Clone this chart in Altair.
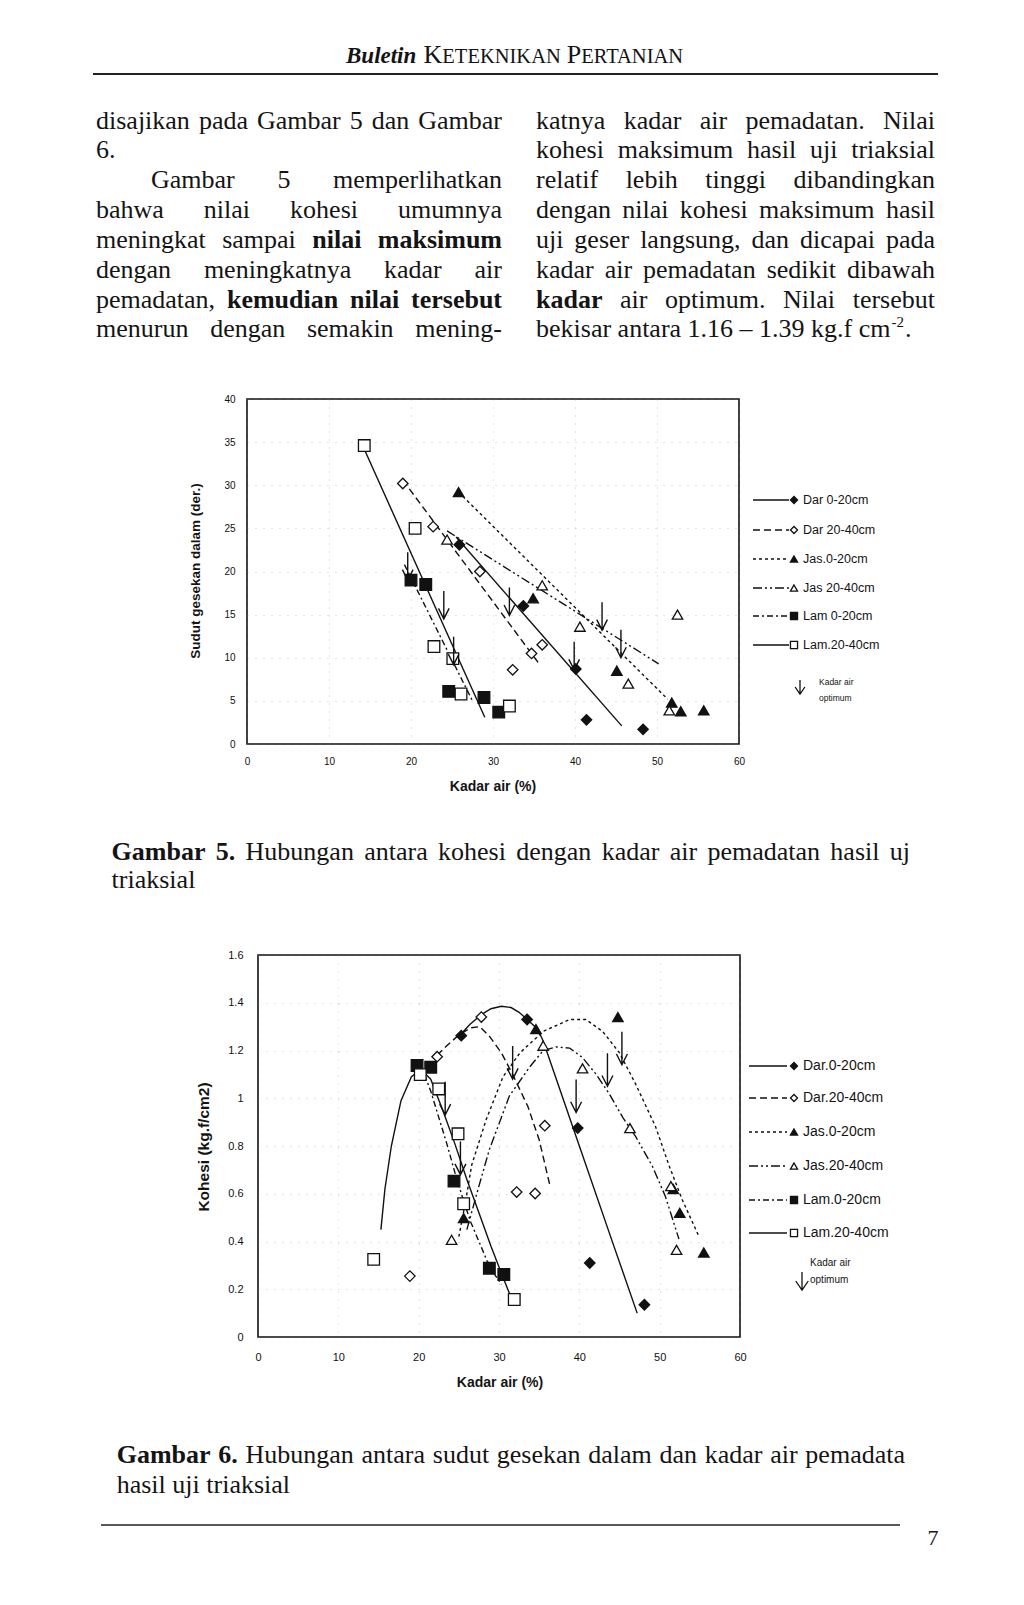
import altair as alt
import pandas as pd

# ---------------- Gambar 5 : Sudut gesekan dalam (der.) ----------------
g5_x_ticks = [0, 10, 20, 30, 40, 50, 60]
g5_y_ticks = [0, 5, 10, 15, 20, 25, 30, 35, 40]
g5_labels = ["Dar 0-20cm", "Dar 20-40cm", "Jas.0-20cm", "Jas 20-40cm", "Lam 0-20cm", "Lam.20-40cm"]

g5_dar1_x = [25.9, 33.7, 40.1, 41.4, 48.3]
g5_dar1_y = [23.1, 16.0, 8.7, 2.8, 1.7]
g5_dar2_x = [19.0, 22.7, 28.4, 36.0, 34.7, 32.4]
g5_dar2_y = [30.2, 25.2, 20.0, 11.5, 10.5, 8.6]
g5_jas1_x = [25.8, 34.9, 45.1, 51.8, 52.9, 55.7]
g5_jas1_y = [29.2, 16.9, 8.5, 4.8, 3.8, 3.9]
g5_jas2_x = [24.4, 36.0, 40.6, 52.5, 46.5, 51.5]
g5_jas2_y = [23.7, 18.4, 13.6, 15.0, 7.0, 3.9]
g5_lam1_x = [20.0, 21.8, 24.6, 28.9, 30.7]
g5_lam1_y = [19.0, 18.5, 6.1, 5.4, 3.7]
g5_lam2_x = [14.3, 20.5, 22.8, 25.1, 26.1, 32.0]
g5_lam2_y = [34.6, 25.0, 11.3, 9.9, 5.8, 4.4]

# trend lines (end points)
g5_tr_dar1_x = [25.5, 45.7]
g5_tr_dar1_y = [24.0, 2.1]
g5_tr_dar2_x = [19.0, 35.7]
g5_tr_dar2_y = [30.6, 9.2]
g5_tr_jas1_x = [25.8, 51.3]
g5_tr_jas1_y = [29.2, 5.2]
g5_tr_jas2_x = [24.4, 50.2]
g5_tr_jas2_y = [24.7, 9.3]
g5_tr_lam1_x = [19.2, 27.5]
g5_tr_lam1_y = [20.8, 5.0]
g5_tr_lam2_x = [14.1, 29.0]
g5_tr_lam2_y = [34.6, 3.1]

# "Kadar air optimum" arrows (x, tip y)
g5_arrow_x = [19.6, 24.0, 25.2, 32.0, 39.9, 43.3, 45.6]
g5_arrow_y = [19.0, 14.5, 9.2, 14.9, 8.6, 13.2, 10.0]

# ---------------- Gambar 6 : Kohesi (kg.f/cm2) ----------------
g6_x_ticks = [0, 10, 20, 30, 40, 50, 60]
g6_y_ticks = [0, 0.2, 0.4, 0.6, 0.8, 1, 1.2, 1.4, 1.6]
g6_labels = ["Dar.0-20cm", "Dar.20-40cm", "Jas.0-20cm", "Jas.20-40cm", "Lam.0-20cm", "Lam.20-40cm"]

g6_dar1_x = [25.3, 33.5, 39.8, 41.3, 48.1]
g6_dar1_y = [1.262, 1.33, 0.875, 0.31, 0.135]
g6_dar2_x = [18.9, 22.3, 27.8, 35.7, 32.2, 34.5]
g6_dar2_y = [0.255, 1.174, 1.34, 0.885, 0.607, 0.601]
g6_jas1_x = [25.6, 34.6, 44.8, 51.7, 52.5, 55.5]
g6_jas1_y = [0.498, 1.29, 1.34, 0.62, 0.52, 0.354]
g6_jas2_x = [24.1, 35.5, 40.4, 46.3, 51.4, 52.1]
g6_jas2_y = [0.407, 1.22, 1.125, 0.875, 0.632, 0.365]
g6_lam1_x = [19.8, 21.5, 24.4, 28.8, 30.6]
g6_lam1_y = [1.137, 1.13, 0.653, 0.288, 0.262]
g6_lam2_x = [14.4, 20.2, 22.5, 24.9, 25.6, 31.9]
g6_lam2_y = [0.325, 1.099, 1.039, 0.851, 0.558, 0.157]

# fitted curves, points
g6_cv_dar1_x = [25.3, 26.4, 27.8, 29.0, 30.3, 31.5, 32.5, 33.5, 34.8, 35.5, 39.8, 44.0, 47.2]
g6_cv_dar1_y = [1.27, 1.31, 1.35, 1.375, 1.385, 1.38, 1.36, 1.33, 1.29, 1.24, 0.82, 0.41, 0.10]
g6_cv_dar2_x = [22.3, 23.5, 25.0, 26.5, 27.6, 28.8, 30.3, 31.7, 33.6, 35.0, 36.3]
g6_cv_dar2_y = [1.18, 1.22, 1.265, 1.295, 1.30, 1.26, 1.19, 1.10, 0.965, 0.826, 0.64]
g6_cv_jas1_x = [25.0, 25.8, 26.6, 28.4, 30.5, 32.6, 35.5, 38.8, 40.8, 42.9, 45.0, 47.0, 49.5, 51.2, 52.8, 54.9]
g6_cv_jas1_y = [0.42, 0.56, 0.72, 0.91, 1.09, 1.19, 1.28, 1.33, 1.33, 1.28, 1.19, 1.06, 0.88, 0.715, 0.576, 0.42]
g6_cv_jas2_x = [26.0, 27.4, 28.8, 31.3, 33.8, 35.5, 37.1, 38.8, 40.4, 42.1, 43.7, 45.4, 47.0, 49.1, 50.7, 52.4]
g6_cv_jas2_y = [0.45, 0.62, 0.785, 1.01, 1.13, 1.20, 1.215, 1.21, 1.17, 1.10, 1.02, 0.92, 0.84, 0.715, 0.59, 0.41]
g6_cv_lam1_x = [19.6, 20.5, 21.5, 22.5, 23.5, 24.5, 25.5, 26.5, 27.5, 28.5, 29.5, 30.3]
g6_cv_lam1_y = [1.14, 1.12, 1.03, 0.92, 0.81, 0.69, 0.58, 0.48, 0.40, 0.32, 0.26, 0.22]
g6_cv_lam2_x = [15.3, 15.8, 16.6, 17.8, 19.1, 20.3, 21.5, 23.0, 24.5, 26.0, 27.5, 29.0, 30.5, 31.8]
g6_cv_lam2_y = [0.45, 0.62, 0.80, 0.99, 1.09, 1.12, 1.08, 0.95, 0.81, 0.66, 0.52, 0.38, 0.25, 0.14]

g6_arrow_x = [23.3, 25.2, 31.7, 39.6, 43.5, 45.3]
g6_arrow_y = [0.93, 0.68, 1.08, 0.94, 1.05, 1.14]

# ---------------- page text ----------------
header_script = "Buletin"
header_caps = [("K", "ETEKNIKAN"), ("P", "ERTANIAN")]
left_lines = [
    ("disajikan pada Gambar 5 dan Gambar", True, 0),
    ("6.", False, 0),
    ("Gambar 5 memperlihatkan", True, 55),
    ("bahwa nilai kohesi umumnya", True, 0),
    ("meningkat sampai *nilai *maksimum", True, 0),
    ("dengan meningkatnya kadar air", True, 0),
    ("pemadatan, *kemudian *nilai *tersebut", True, 0),
    ("menurun dengan semakin mening-", True, 0),
]
right_lines = [
    ("katnya kadar air pemadatan. Nilai", True),
    ("kohesi maksimum hasil uji triaksial", True),
    ("relatif lebih tinggi dibandingkan", True),
    ("dengan nilai kohesi maksimum hasil", True),
    ("uji geser langsung, dan dicapai pada", True),
    ("kadar air pemadatan sedikit dibawah", True),
    ("*kadar air optimum. Nilai tersebut", True),
    ("bekisar antara 1.16 \u2013 1.39 kg.f cm", False),
]
cap5 = ["*Gambar *5. Hubungan antara kohesi dengan kadar air pemadatan hasil uj", "triaksial"]
cap6 = ["*Gambar *6. Hubungan antara sudut gesekan dalam dan kadar air pemadata", "hasil uji triaksial"]
page_no = "7"

# ---------------- font metrics (Times / Liberation Serif) ----------------
REG = dict(zip("abcdefghijklmnopqrstuvwxyz",
               [444, 500, 444, 500, 444, 333, 500, 500, 278, 278, 500, 278, 778, 500, 500, 500, 500, 333, 389, 278, 500, 500, 722, 500, 500, 444]))
REG.update(zip("ABCDEFGHIJKLMNOPQRSTUVWXYZ",
               [722, 667, 667, 722, 611, 556, 722, 722, 333, 389, 722, 611, 889, 722, 722, 556, 722, 667, 556, 611, 722, 722, 944, 722, 722, 611]))
BOLD = dict(zip("abcdefghijklmnopqrstuvwxyz",
                [500, 556, 444, 556, 444, 333, 500, 556, 278, 333, 556, 278, 833, 556, 500, 556, 556, 444, 389, 333, 556, 500, 722, 500, 500, 444]))
BOLD.update(zip("ABCDEFGHIJKLMNOPQRSTUVWXYZ",
                [722, 667, 722, 722, 667, 611, 778, 778, 389, 500, 778, 667, 944, 722, 778, 611, 778, 722, 556, 667, 722, 722, 1000, 722, 722, 667]))
for tbl in (REG, BOLD):
    tbl.update({' ': 250, '.': 250, ',': 250, '-': 333, '\u2013': 500, '(': 333, ')': 333, '/': 278})
    for d in "0123456789":
        tbl[d] = 500


def tw(s, bold, size):
    t = BOLD if bold else REG
    return sum(t.get(c, 500) for c in s) * size / 1000.0


def layout(line, x0, x1, base, size, just):
    words = []
    for w in line.split():
        b = w.startswith('*')
        t = w.lstrip('*')
        words.append((t, b, tw(t, b, size)))
    if just and len(words) > 1:
        gap = (x1 - x0 - sum(w[2] for w in words)) / (len(words) - 1)
    else:
        gap = 0.25 * size
    out, x = [], x0
    for t, b, wd in words:
        out.append((x, base, t, b))
        x += wd + gap
    return out, x - gap


# ---------------- geometry ----------------
W1, H1 = 492, 345
W2, H2 = 482, 382
O1 = (246, 398)
O2 = (257, 954)
BODY = 26


def text_layer(rows, origin, **mk):
    props = dict(color='#141414', align='left', baseline='alphabetic')
    props.update(mk)
    df = pd.DataFrame({'px': [r[0] - origin[0] for r in rows],
                       'py': [r[1] - origin[1] for r in rows],
                       't': [r[2] for r in rows]})
    return alt.Chart(df).mark_text(**props).encode(
        x=alt.X('px:Q', scale=None, axis=None),
        y=alt.Y('py:Q', scale=None, axis=None),
        text=alt.Text('t:N'))


ONE = pd.DataFrame({'a': [0]})


def rule_at(x0, x1, y, origin, **mk):
    return alt.Chart(ONE).mark_rule(**mk).encode(
        x=alt.value(x0 - origin[0]), x2=alt.value(x1 - origin[0]), y=alt.value(y - origin[1]))


def point_at(x, y, origin, **mk):
    return alt.Chart(ONE).mark_point(**mk).encode(
        x=alt.value(x - origin[0]), y=alt.value(y - origin[1]))


STY = [
    dict(shape='diamond', filled=True, dash=None),
    dict(shape='diamond', filled=False, dash=[7, 4]),
    dict(shape='triangle-up', filled=True, dash=[3, 3]),
    dict(shape='triangle-up', filled=False, dash=[9, 3, 2, 3, 2, 3]),
    dict(shape='square', filled=True, dash=[6, 3, 2, 3]),
    dict(shape='square', filled=False, dash=None),
]
SIZE = {'diamond': 110, 'triangle-up': 110, 'square': 135}


def marker_kw(st, size):
    return dict(shape=st['shape'], filled=True, fill='#111' if st['filled'] else 'white',
                stroke='#111', strokeWidth=1.3, size=size, opacity=1)


def line_kw(st, w=1.4):
    kw = dict(color='#111', strokeWidth=w)
    if st['dash']:
        kw['strokeDash'] = st['dash']
    return kw


def axis_x(values, pad, fs):
    return alt.Axis(values=values, title=None, ticks=False, domain=False, grid=True,
                    gridDash=[1, 7], gridColor='#777', gridOpacity=0.4,
                    labelFont='Liberation Sans', labelFontSize=fs, labelPadding=pad,
                    labelColor='#111', labelFlush=False, format='~r')


def data_layers(pts, lines, arrows, xenc_f, yenc_f, arrow_shape, arrow_size, lw):
    layers = []
    for (lx, ly), st in zip(lines, STY):
        df = pd.DataFrame({'x': lx, 'y': ly, 'i': list(range(len(lx)))})
        layers.append(alt.Chart(df).mark_line(**line_kw(st, lw)).encode(
            x=xenc_f(), y=yenc_f(), order='i:Q'))
    for (px, py), st in zip(pts, STY):
        df = pd.DataFrame({'x': px, 'y': py})
        layers.append(alt.Chart(df).mark_point(**marker_kw(st, SIZE[st['shape']])).encode(
            x=xenc_f(), y=yenc_f()))
    ax, ay = arrows
    layers.append(alt.Chart(pd.DataFrame({'x': ax, 'y': ay})).mark_point(
        shape=arrow_shape, size=arrow_size, filled=False, color='#111', strokeWidth=1.4, opacity=1).encode(
        x=xenc_f(), y=yenc_f()))
    return layers


def legend_layers(labels, rows_y, lx0, lx1, mx, tx, fs, origin, arrow_tip, kadar_pos, kfs, arrow_size):
    layers = []
    for lab, ry, st in zip(labels, rows_y, STY):
        layers.append(rule_at(lx0, lx1, ry, origin, **line_kw(st, 1.3)))
        layers.append(point_at(mx, ry, origin, **marker_kw(st, 50)))
    layers.append(text_layer([(tx, ry, lab) for lab, ry in zip(labels, rows_y)], origin,
                             font='Liberation Sans', fontSize=fs, baseline='middle'))
    layers.append(point_at(arrow_tip[0], arrow_tip[1], origin,
                           shape="M0,-2L0,0M-0.7,-1L0,0L0.7,-1", size=arrow_size,
                           filled=False, color='#111', strokeWidth=1.3, opacity=1))
    layers.append(text_layer([(kadar_pos[0], kadar_pos[1], "Kadar air"),
                              (kadar_pos[0], kadar_pos[1] + kadar_pos[2], "optimum")], origin,
                             font='Liberation Sans', fontSize=kfs, baseline='middle'))
    return layers


# ================= Chart 1 (Gambar 5) with page header text =================
x1s = alt.Scale(domain=[0, 60], nice=False, zero=False)
y1s = alt.Scale(domain=[0, 40], nice=False, zero=False)
X1 = lambda: alt.X('x:Q', scale=x1s, axis=axis_x(g5_x_ticks, 12, 10))
Y1 = lambda: alt.Y('y:Q', scale=y1s, axis=axis_x(g5_y_ticks, 12, 10))

L1 = []
# anchor at page top-left (fixes page coordinates)
L1.append(alt.Chart(ONE).mark_rect(color='white').encode(
    x=alt.value(8 - O1[0]), x2=alt.value(9 - O1[0]), y=alt.value(8 - O1[1]), y2=alt.value(9 - O1[1])))

# header
hx = 345
hb = 62
L1.append(text_layer([(hx, hb, header_script)], O1, font='Liberation Serif', fontSize=23,
                     fontWeight='bold', fontStyle='italic'))
hx += tw(header_script, True, 23) + 6
big_rows, small_rows = [], []
for big, small in header_caps:
    big_rows.append((hx, hb, big))
    hx += tw(big, False, 26)
    small_rows.append((hx, hb, small))
    hx += tw(small, False, 20.5) + 6
L1.append(text_layer(big_rows, O1, font='Liberation Serif', fontSize=26))
L1.append(text_layer(small_rows, O1, font='Liberation Serif', fontSize=20.5))
L1.append(rule_at(92, 937, 73, O1, color='#222', strokeWidth=2))

# body text
reg_rows, bold_rows = [], []
BASE0, LEAD = 127.5, 29.85
for k, (line, just, ind) in enumerate(left_lines):
    rows, _ = layout(line, 95 + ind, 501, BASE0 + k * LEAD, BODY, just)
    for r in rows:
        (bold_rows if r[3] else reg_rows).append(r[:3])
end_x = 0
for k, (line, just) in enumerate(right_lines):
    rows, end_x = layout(line, 535, 934, BASE0 + k * LEAD, BODY, just)
    for r in rows:
        (bold_rows if r[3] else reg_rows).append(r[:3])
last_base = BASE0 + 7 * LEAD
sup_rows = [(end_x + 1, last_base - 10, "-2")]
reg_rows.append((end_x + 1 + tw("-2", False, 15) + 1, last_base, "."))

# caption 5
rows, _ = layout(cap5[0], 110.6, 909, 859, BODY, True)
for r in rows:
    (bold_rows if r[3] else reg_rows).append(r[:3])
rows, _ = layout(cap5[1], 110.6, 909, 887, BODY, False)
for r in rows:
    (bold_rows if r[3] else reg_rows).append(r[:3])

L1.append(text_layer(reg_rows, O1, font='Liberation Serif', fontSize=BODY))
L1.append(text_layer(bold_rows, O1, font='Liberation Serif', fontSize=BODY, fontWeight='bold'))
L1.append(text_layer(sup_rows, O1, font='Liberation Serif', fontSize=15))

# data
L1 += data_layers(
    [(g5_dar1_x, g5_dar1_y), (g5_dar2_x, g5_dar2_y), (g5_jas1_x, g5_jas1_y),
     (g5_jas2_x, g5_jas2_y), (g5_lam1_x, g5_lam1_y), (g5_lam2_x, g5_lam2_y)],
    [(g5_tr_dar1_x, g5_tr_dar1_y), (g5_tr_dar2_x, g5_tr_dar2_y), (g5_tr_jas1_x, g5_tr_jas1_y),
     (g5_tr_jas2_x, g5_tr_jas2_y), (g5_tr_lam1_x, g5_tr_lam1_y), (g5_tr_lam2_x, g5_tr_lam2_y)],
    (g5_arrow_x, g5_arrow_y), X1, Y1,
    "M0,-2L0,0M-0.38,-0.75L0,0L0.38,-0.75", 784, 1.4)

# axis titles
L1.append(text_layer([(195, 570, "Sudut gesekan dalam (der.)")], O1, font='Liberation Sans',
                     fontSize=13.5, fontWeight='bold', align='center', baseline='middle', angle=270))
L1.append(text_layer([(492, 786, "Kadar air (%)")], O1, font='Liberation Sans',
                     fontSize=14, fontWeight='bold', align='center', baseline='middle'))

# legend
L1 += legend_layers(g5_labels, [499, 529, 558, 587, 615, 644], 752, 788, 793, 802, 12.5, O1,
                    (799, 693), (818, 681, 16), 8.5, 196)

chart1 = alt.layer(*L1).properties(
    width=W1, height=H1, view=alt.ViewBackground(stroke='#111', strokeWidth=1.6, fill='white'))

# ================= Chart 2 (Gambar 6) =================
x2s = alt.Scale(domain=[0, 60], nice=False, zero=False)
y2s = alt.Scale(domain=[0, 1.6], nice=False, zero=False)
X2 = lambda: alt.X('x:Q', scale=x2s, axis=axis_x(g6_x_ticks, 14, 11))
Y2 = lambda: alt.Y('y:Q', scale=y2s, axis=axis_x(g6_y_ticks, 15, 11))

L2 = []
L2 += data_layers(
    [(g6_dar1_x, g6_dar1_y), (g6_dar2_x, g6_dar2_y), (g6_jas1_x, g6_jas1_y),
     (g6_jas2_x, g6_jas2_y), (g6_lam1_x, g6_lam1_y), (g6_lam2_x, g6_lam2_y)],
    [(g6_cv_dar1_x, g6_cv_dar1_y), (g6_cv_dar2_x, g6_cv_dar2_y), (g6_cv_jas1_x, g6_cv_jas1_y),
     (g6_cv_jas2_x, g6_cv_jas2_y), (g6_cv_lam1_x, g6_cv_lam1_y), (g6_cv_lam2_x, g6_cv_lam2_y)],
    (g6_arrow_x, g6_arrow_y), X2, Y2,
    "M0,-2L0,0M-0.33,-0.65L0,0L0.33,-0.65", 1100, 1.4)

L2.append(text_layer([(203, 1146, "Kohesi (kg.f/cm2)")], O2, font='Liberation Sans',
                     fontSize=15.5, fontWeight='bold', align='center', baseline='middle', angle=270))
L2.append(text_layer([(499, 1382, "Kadar air (%)")], O2, font='Liberation Sans',
                     fontSize=14, fontWeight='bold', align='center', baseline='middle'))
L2 += legend_layers(g6_labels, [1065, 1097, 1131, 1165, 1199, 1232], 748, 786, 793, 802, 14, O2,
                    (801, 1289), (809, 1262, 17), 10, 324)

reg2, bold2 = [], []
rows, _ = layout(cap6[0], 115.7, 904, 1462, BODY, True)
for r in rows:
    (bold2 if r[3] else reg2).append(r[:3])
rows, _ = layout(cap6[1], 115.7, 904, 1492, BODY, False)
for r in rows:
    (bold2 if r[3] else reg2).append(r[:3])
L2.append(text_layer(reg2, O2, font='Liberation Serif', fontSize=BODY))
L2.append(text_layer(bold2, O2, font='Liberation Serif', fontSize=BODY, fontWeight='bold'))
L2.append(rule_at(100, 899, 1524, O2, color='#222', strokeWidth=1.5))
L2.append(text_layer([(932, 1544, page_no)], O2, font='Liberation Serif', fontSize=22, align='center'))

chart2 = alt.layer(*L2).properties(
    width=W2, height=H2, view=alt.ViewBackground(stroke='#111', strokeWidth=1.6, fill='white'))

spacer = alt.Chart(ONE).mark_point(opacity=0).encode(
    x=alt.value(0), y=alt.value(0)).properties(width=1, height=H2)

row2 = alt.hconcat(spacer, chart2, spacing=O2[0] - O1[0] - 1, bounds='flush')
chart = alt.vconcat(chart1, row2, spacing=O2[1] - (O1[1] + H1), bounds='flush').properties(
    padding=0
).configure(background='white').configure_view(stroke='transparent')

chart.save("out.html", embed_options={"renderer": "svg", "actions": False})
